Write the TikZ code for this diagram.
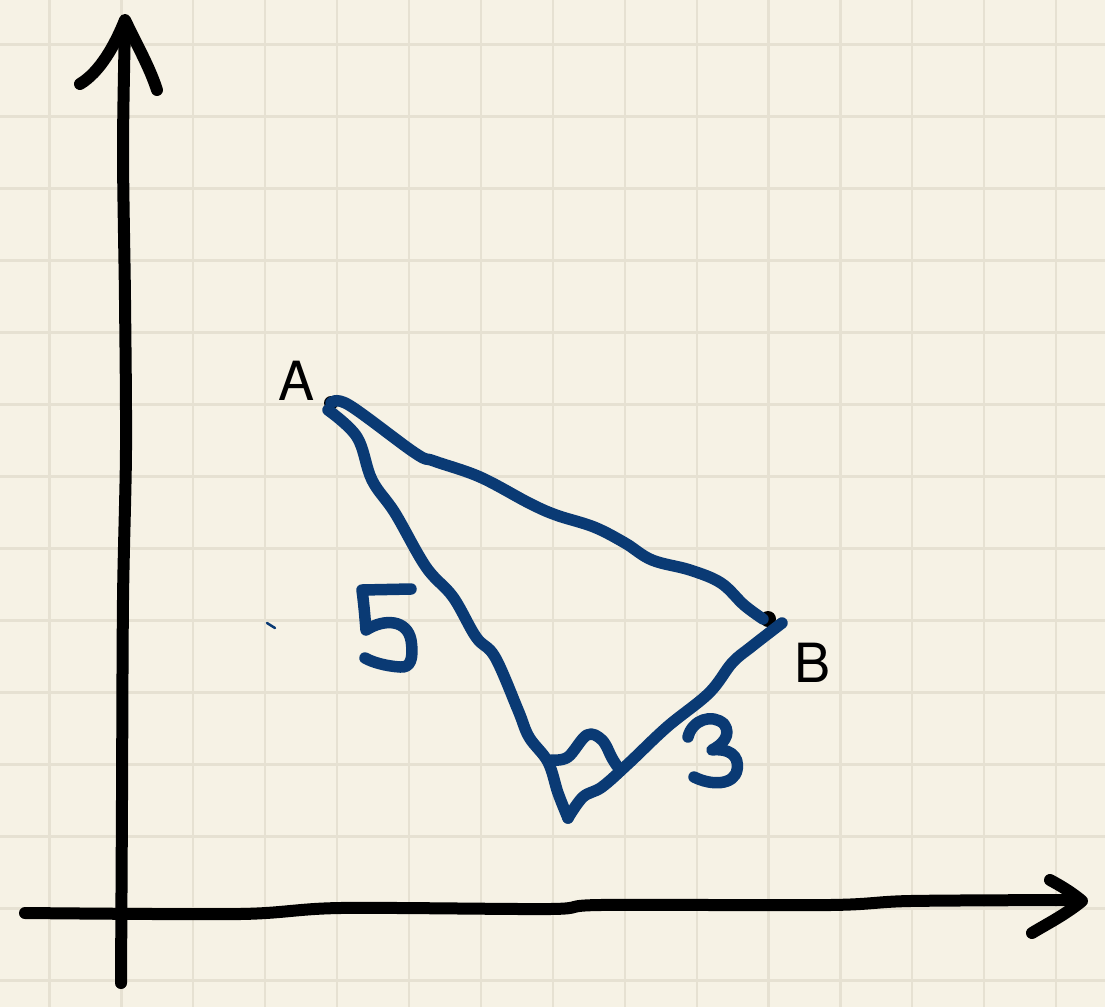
\documentclass[tikz,border=0pt]{standalone}
\usepackage{fontspec}
\setmainfont{TeX Gyre Heros}
\definecolor{paper}{HTML}{F6F2E5}
\definecolor{gridc}{HTML}{E6E1D2}
\definecolor{ink}{HTML}{0A3A74}
\begin{document}
\begin{tikzpicture}[x=1pt,y=-1pt,
  axis/.style={line width=12pt,black,line cap=round,line join=round},
  pen/.style={line width=11.5pt,ink,line cap=round,line join=round},
  lbl/.style={font=\fontsize{54}{64}\selectfont,inner sep=0pt}]
\fill[paper] (0,0) rectangle (1105,1007);
\useasboundingbox (0,0) rectangle (1105,1007);
\foreach \i in {0,...,14} \draw[gridc,line width=2.2pt] ({49.5+71.9*\i},0) -- ({49.5+71.9*\i},1007);
\foreach \j in {0,...,13} \draw[gridc,line width=2.2pt] (0,{44.5+72*\j}) -- (1105,{44.5+72*\j});
% axes
\coordinate (ytip) at (125,20);
\coordinate (xtip) at (1082,901);
\draw[axis] plot[smooth] coordinates {(121,983) (122,800) (123,600) (126,450) (125,300) (123,150) (125,24)};
\draw[axis] (80,84) .. controls (100,72) and (115,45) .. (ytip) .. controls (137,45) and (150,68) .. (157,90);
\draw[axis] plot[smooth] coordinates {(25,913) (240,914) (340,908) (550,909) (600,905) (830,905) (910,901) (1078,900)};
\draw[axis] (1050,880) .. controls (1065,888) and (1075,895) .. (xtip) .. controls (1065,915) and (1045,925) .. (1032,933);
% triangle
\coordinate (A) at (331,403);
\coordinate (B) at (768,619);
\coordinate (C) at (568,818);
\fill[black] (A) circle (7pt);
\fill[black] (B) circle (8pt);
\draw[pen] plot[smooth,tension=0.6] coordinates {(A) (349,405) (415,453) (434,461) (480,477) (529,503) (556,515) (594,527) (625,543) (652,560) (690,570) (721,583) (744,605) (763,619)};
\draw[pen] plot[smooth,tension=0.6] coordinates {(328,410) (357,437) (372,480) (395,513) (426,567) (453,597) (476,637) (495,657) (518,710) (529,737) (548,762) (558,793) (C)};
\draw[pen] plot[smooth,tension=0.6] coordinates {(C) (583,797) (602,787) (629,763) (667,727) (709,693) (732,663) (751,647) (782,623)};
% right-angle mark
\draw[pen] plot[smooth,tension=0.6] coordinates {(552,760) (568,757) (587,735) (602,740) (612,758) (617,766)};
% labels
\node[lbl] (la) at (297,381) {A};
\node[lbl] (lb) at (812,663) {B};
% handwritten 5
\draw[pen] (411,589) -- (362,590) .. controls (364,605) and (365,618) .. (366,630) .. controls (385,618) and (407,620) .. (411,640) .. controls (414,660) and (410,668) .. (400,667) .. controls (385,666) and (372,662) .. (365,658);
% handwritten 3
\draw[pen] (688,737) .. controls (692,720) and (712,713) .. (724,724) .. controls (732,735) and (722,745) .. (712,750) .. controls (728,748) and (740,755) .. (737,770) .. controls (734,785) and (712,786) .. (694,777);
% small tick
\draw[ink,line width=2.5pt,line cap=round] (267,623) -- (275,628);
\end{tikzpicture}
\end{document}
